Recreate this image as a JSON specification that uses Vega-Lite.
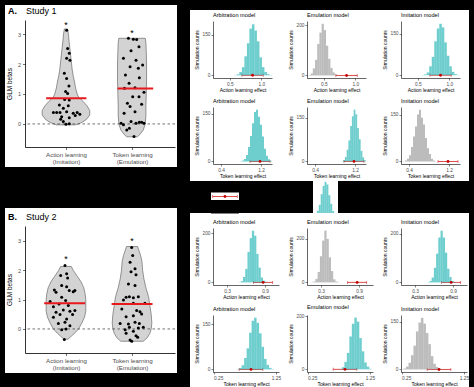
{
"$schema": "https://vega.github.io/schema/vega-lite/v6.json",
"padding": 0,
"background": "white",
"config": {
  "font": "Liberation Sans",
  "view": {"stroke": null},
  "axis": {"grid": false, "domainColor": "#000000", "domainWidth": 0.6, "tickColor": "#333333", "tickWidth": 0.6, "tickSize": 2, "labelColor": "#4d4d4d", "labelFontSize": 4.8, "labelPadding": 1, "titleFontSize": 5, "titleFontWeight": "normal", "titleColor": "#000000", "titlePadding": 2},
  "axisY": {"titlePadding": 2},
  "title": {"fontSize": 5.6, "fontWeight": "normal", "anchor": "start", "color": "#000000", "offset": 2.5, "frame": "group"}
},
"datasets": {
  "violin": [
    {"s":1,"g":1,"v":-0.03,"lo":0.85,"hi":1.15},{"s":1,"g":1,"v":0.05,"lo":0.76,"hi":1.24},{"s":1,"g":1,"v":0.15,"lo":0.69,"hi":1.31},{"s":1,"g":1,"v":0.3,"lo":0.64,"hi":1.36},{"s":1,"g":1,"v":0.45,"lo":0.64,"hi":1.36},{"s":1,"g":1,"v":0.6,"lo":0.68,"hi":1.32},{"s":1,"g":1,"v":0.75,"lo":0.74,"hi":1.26},{"s":1,"g":1,"v":0.9,"lo":0.81,"hi":1.19},{"s":1,"g":1,"v":1.0,"lo":0.83,"hi":1.17},{"s":1,"g":1,"v":1.2,"lo":0.855,"hi":1.145},{"s":1,"g":1,"v":1.4,"lo":0.87,"hi":1.13},{"s":1,"g":1,"v":1.6,"lo":0.89,"hi":1.11},{"s":1,"g":1,"v":1.8,"lo":0.905,"hi":1.095},{"s":1,"g":1,"v":2.0,"lo":0.915,"hi":1.085},{"s":1,"g":1,"v":2.2,"lo":0.925,"hi":1.075},{"s":1,"g":1,"v":2.4,"lo":0.935,"hi":1.065},{"s":1,"g":1,"v":2.6,"lo":0.945,"hi":1.055},{"s":1,"g":1,"v":2.8,"lo":0.955,"hi":1.045},{"s":1,"g":1,"v":3.0,"lo":0.963,"hi":1.037},{"s":1,"g":1,"v":3.17,"lo":0.975,"hi":1.025},
    {"s":1,"g":2,"v":-0.43,"lo":1.92,"hi":2.08},{"s":1,"g":2,"v":-0.35,"lo":1.88,"hi":2.12},{"s":1,"g":2,"v":-0.2,"lo":1.83,"hi":2.17},{"s":1,"g":2,"v":0.0,"lo":1.8,"hi":2.2},{"s":1,"g":2,"v":0.3,"lo":1.79,"hi":2.21},{"s":1,"g":2,"v":0.6,"lo":1.79,"hi":2.21},{"s":1,"g":2,"v":1.0,"lo":1.785,"hi":2.215},{"s":1,"g":2,"v":1.5,"lo":1.78,"hi":2.22},{"s":1,"g":2,"v":2.0,"lo":1.78,"hi":2.22},{"s":1,"g":2,"v":2.4,"lo":1.785,"hi":2.215},{"s":1,"g":2,"v":2.7,"lo":1.79,"hi":2.21},{"s":1,"g":2,"v":2.86,"lo":1.8,"hi":2.2},
    {"s":2,"g":1,"v":-0.35,"lo":0.97,"hi":1.03},{"s":2,"g":1,"v":-0.25,"lo":0.92,"hi":1.08},{"s":2,"g":1,"v":-0.1,"lo":0.85,"hi":1.15},{"s":2,"g":1,"v":0.0,"lo":0.81,"hi":1.19},{"s":2,"g":1,"v":0.2,"lo":0.76,"hi":1.24},{"s":2,"g":1,"v":0.4,"lo":0.72,"hi":1.28},{"s":2,"g":1,"v":0.6,"lo":0.7,"hi":1.3},{"s":2,"g":1,"v":0.8,"lo":0.7,"hi":1.3},{"s":2,"g":1,"v":1.0,"lo":0.7,"hi":1.3},{"s":2,"g":1,"v":1.2,"lo":0.71,"hi":1.29},{"s":2,"g":1,"v":1.4,"lo":0.73,"hi":1.27},{"s":2,"g":1,"v":1.6,"lo":0.77,"hi":1.23},{"s":2,"g":1,"v":1.8,"lo":0.83,"hi":1.17},{"s":2,"g":1,"v":2.0,"lo":0.89,"hi":1.11},{"s":2,"g":1,"v":2.13,"lo":0.92,"hi":1.08},
    {"s":2,"g":2,"v":-0.42,"lo":1.83,"hi":2.17},{"s":2,"g":2,"v":-0.3,"lo":1.77,"hi":2.23},{"s":2,"g":2,"v":-0.15,"lo":1.73,"hi":2.27},{"s":2,"g":2,"v":0.0,"lo":1.71,"hi":2.29},{"s":2,"g":2,"v":0.2,"lo":1.7,"hi":2.3},{"s":2,"g":2,"v":0.5,"lo":1.71,"hi":2.29},{"s":2,"g":2,"v":0.8,"lo":1.73,"hi":2.27},{"s":2,"g":2,"v":1.1,"lo":1.75,"hi":2.25},{"s":2,"g":2,"v":1.4,"lo":1.79,"hi":2.21},{"s":2,"g":2,"v":1.7,"lo":1.82,"hi":2.18},{"s":2,"g":2,"v":2.0,"lo":1.84,"hi":2.16},{"s":2,"g":2,"v":2.3,"lo":1.85,"hi":2.15},{"s":2,"g":2,"v":2.5,"lo":1.87,"hi":2.13},{"s":2,"g":2,"v":2.7,"lo":1.9,"hi":2.1},{"s":2,"g":2,"v":2.81,"lo":1.915,"hi":2.085}
  ],
  "pts": [
    {"s":1,"g":1,"x":1.01,"v":3.13},{"s":1,"g":1,"x":1.025,"v":2.52},{"s":1,"g":1,"x":1.05,"v":2.36},{"s":1,"g":1,"x":1.01,"v":2.19},{"s":1,"g":1,"x":1.06,"v":2.13},{"s":1,"g":1,"x":0.975,"v":1.69},{"s":1,"g":1,"x":1.01,"v":1.52},{"s":1,"g":1,"x":1.045,"v":1.27},{"s":1,"g":1,"x":0.995,"v":1.08},{"s":1,"g":1,"x":1.025,"v":1.02},{"s":1,"g":1,"x":0.98,"v":0.82},{"s":1,"g":1,"x":1.05,"v":0.8},{"s":1,"g":1,"x":0.9,"v":0.63},{"s":1,"g":1,"x":1.035,"v":0.61},{"s":1,"g":1,"x":0.96,"v":0.52},{"s":1,"g":1,"x":0.81,"v":0.38},{"s":1,"g":1,"x":0.86,"v":0.38},{"s":1,"g":1,"x":0.91,"v":0.38},{"s":1,"g":1,"x":1.01,"v":0.41},{"s":1,"g":1,"x":1.11,"v":0.36},{"s":1,"g":1,"x":1.17,"v":0.38},{"s":1,"g":1,"x":1.21,"v":0.32},{"s":1,"g":1,"x":0.935,"v":0.24},{"s":1,"g":1,"x":1.05,"v":0.21},{"s":1,"g":1,"x":1.14,"v":0.28},{"s":1,"g":1,"x":0.92,"v":0.16},{"s":1,"g":1,"x":1.0,"v":-0.01},{"s":1,"g":1,"x":1.05,"v":0.01},{"s":1,"g":1,"x":0.96,"v":0.08},
    {"s":1,"g":2,"x":1.945,"v":2.86},{"s":1,"g":2,"x":2.02,"v":2.83},{"s":1,"g":2,"x":2.07,"v":2.82},{"s":1,"g":2,"x":2.105,"v":2.58},{"s":1,"g":2,"x":1.985,"v":2.44},{"s":1,"g":2,"x":1.87,"v":2.19},{"s":1,"g":2,"x":2.06,"v":2.13},{"s":1,"g":2,"x":2.16,"v":1.97},{"s":1,"g":2,"x":1.97,"v":1.91},{"s":1,"g":2,"x":2.095,"v":1.86},{"s":1,"g":2,"x":1.9,"v":1.63},{"s":1,"g":2,"x":2.11,"v":1.54},{"s":1,"g":2,"x":1.955,"v":1.36},{"s":1,"g":2,"x":1.885,"v":1.19},{"s":1,"g":2,"x":2.045,"v":1.21},{"s":1,"g":2,"x":2.18,"v":1.06},{"s":1,"g":2,"x":2.01,"v":0.91},{"s":1,"g":2,"x":2.105,"v":0.91},{"s":1,"g":2,"x":1.93,"v":0.69},{"s":1,"g":2,"x":1.97,"v":0.58},{"s":1,"g":2,"x":2.145,"v":0.66},{"s":1,"g":2,"x":2.045,"v":0.41},{"s":1,"g":2,"x":1.88,"v":0.36},{"s":1,"g":2,"x":1.985,"v":0.08},{"s":1,"g":2,"x":2.11,"v":0.06},{"s":1,"g":2,"x":1.87,"v":-0.03},{"s":1,"g":2,"x":2.06,"v":0.02},{"s":1,"g":2,"x":2.145,"v":0.06},{"s":1,"g":2,"x":2.18,"v":0.02},{"s":1,"g":2,"x":1.92,"v":-0.2},{"s":1,"g":2,"x":2.03,"v":-0.42},{"s":1,"g":2,"x":1.96,"v":-0.14},{"s":1,"g":2,"x":1.835,"v":0.02},
    {"s":2,"g":1,"x":0.985,"v":2.16},{"s":2,"g":1,"x":0.92,"v":1.82},{"s":2,"g":1,"x":1.01,"v":1.88},{"s":2,"g":1,"x":1.025,"v":1.74},{"s":2,"g":1,"x":0.825,"v":1.33},{"s":2,"g":1,"x":0.85,"v":1.25},{"s":2,"g":1,"x":0.935,"v":1.48},{"s":2,"g":1,"x":1.01,"v":1.44},{"s":2,"g":1,"x":1.05,"v":1.31},{"s":2,"g":1,"x":1.11,"v":1.27},{"s":2,"g":1,"x":1.135,"v":1.31},{"s":2,"g":1,"x":0.935,"v":1.08},{"s":2,"g":1,"x":0.995,"v":0.97},{"s":2,"g":1,"x":0.76,"v":0.94},{"s":2,"g":1,"x":0.81,"v":0.76},{"s":2,"g":1,"x":1.035,"v":0.8},{"s":2,"g":1,"x":0.895,"v":0.85},{"s":2,"g":1,"x":0.85,"v":0.57},{"s":2,"g":1,"x":0.91,"v":0.49},{"s":2,"g":1,"x":0.96,"v":0.65},{"s":2,"g":1,"x":1.06,"v":0.6},{"s":2,"g":1,"x":1.1,"v":0.49},{"s":2,"g":1,"x":1.135,"v":0.63},{"s":2,"g":1,"x":0.81,"v":0.4},{"s":2,"g":1,"x":1.01,"v":0.34},{"s":2,"g":1,"x":0.885,"v":0.19},{"s":2,"g":1,"x":0.985,"v":0.23},{"s":2,"g":1,"x":1.06,"v":0.11},{"s":2,"g":1,"x":0.935,"v":-0.03},{"s":2,"g":1,"x":1.0,"v":0.0},{"s":2,"g":1,"x":0.975,"v":-0.36},
    {"s":2,"g":2,"x":1.995,"v":2.78},{"s":2,"g":2,"x":2.01,"v":2.5},{"s":2,"g":2,"x":1.97,"v":2.27},{"s":2,"g":2,"x":2.045,"v":2.05},{"s":2,"g":2,"x":1.985,"v":1.95},{"s":2,"g":2,"x":2.06,"v":1.85},{"s":2,"g":2,"x":1.945,"v":1.53},{"s":2,"g":2,"x":2.045,"v":1.48},{"s":2,"g":2,"x":1.91,"v":1.08},{"s":2,"g":2,"x":1.96,"v":1.1},{"s":2,"g":2,"x":2.02,"v":1.06},{"s":2,"g":2,"x":2.095,"v":1.1},{"s":2,"g":2,"x":1.87,"v":0.99},{"s":2,"g":2,"x":2.02,"v":0.88},{"s":2,"g":2,"x":2.195,"v":0.88},{"s":2,"g":2,"x":1.845,"v":0.68},{"s":2,"g":2,"x":2.07,"v":0.63},{"s":2,"g":2,"x":2.12,"v":0.59},{"s":2,"g":2,"x":1.91,"v":0.42},{"s":2,"g":2,"x":2.02,"v":0.45},{"s":2,"g":2,"x":2.145,"v":0.51},{"s":2,"g":2,"x":1.82,"v":0.19},{"s":2,"g":2,"x":1.945,"v":0.17},{"s":2,"g":2,"x":2.045,"v":0.23},{"s":2,"g":2,"x":2.11,"v":0.19},{"s":2,"g":2,"x":1.895,"v":-0.03},{"s":2,"g":2,"x":1.96,"v":0.06},{"s":2,"g":2,"x":2.095,"v":0.03},{"s":2,"g":2,"x":2.17,"v":0.06},{"s":2,"g":2,"x":2.02,"v":-0.08},{"s":2,"g":2,"x":1.91,"v":-0.15},{"s":2,"g":2,"x":2.06,"v":-0.23},{"s":2,"g":2,"x":1.97,"v":-0.38},{"s":2,"g":2,"x":1.995,"v":-0.42},{"s":2,"g":2,"x":2.085,"v":-0.28}
  ],
  "means": [
    {"s":1,"g":1,"m":0.86,"x1":0.7,"x2":1.31},{"s":1,"g":2,"m":1.18,"x1":1.78,"x2":2.32},
    {"s":2,"g":1,"m":0.875,"x1":0.67,"x2":1.29},{"s":2,"g":2,"m":0.85,"x1":1.69,"x2":2.31}
  ],
  "stars": [
    {"s":1,"g":1,"v":3.38},{"s":1,"g":2,"v":3.1},{"s":2,"g":1,"v":2.46},{"s":2,"g":2,"v":3.08}
  ],
  "eb": [
    {"p":"C1","lo":0.69,"hi":1.03,"m":0.86},{"p":"C2","lo":0.69,"hi":1.03,"m":0.86},{"p":"C3","lo":0.69,"hi":1.03,"m":0.86},
    {"p":"C4","lo":0.98,"hi":1.38,"m":1.18},{"p":"C5","lo":0.98,"hi":1.38,"m":1.18},{"p":"C6","lo":0.98,"hi":1.38,"m":1.18},
    {"p":"D1","lo":0.72,"hi":1.02,"m":0.87},{"p":"D2","lo":0.72,"hi":1.02,"m":0.87},{"p":"D3","lo":0.72,"hi":1.02,"m":0.87},
    {"p":"D4","lo":0.66,"hi":1.04,"m":0.85},{"p":"D5","lo":0.66,"hi":1.04,"m":0.85},{"p":"D6","lo":0.66,"hi":1.04,"m":0.85}
  ],
  "hist": [
    {"p":"C1","x0":0.57,"x1":0.61,"n":1},{"p":"C1","x0":0.61,"x1":0.65,"n":4},{"p":"C1","x0":0.65,"x1":0.69,"n":12},{"p":"C1","x0":0.69,"x1":0.73,"n":30},{"p":"C1","x0":0.73,"x1":0.77,"n":70},{"p":"C1","x0":0.77,"x1":0.81,"n":118},{"p":"C1","x0":0.81,"x1":0.85,"n":172},{"p":"C1","x0":0.85,"x1":0.89,"n":188},{"p":"C1","x0":0.89,"x1":0.93,"n":165},{"p":"C1","x0":0.93,"x1":0.97,"n":125},{"p":"C1","x0":0.97,"x1":1.01,"n":66},{"p":"C1","x0":1.01,"x1":1.05,"n":30},{"p":"C1","x0":1.05,"x1":1.09,"n":12},{"p":"C1","x0":1.09,"x1":1.13,"n":4},{"p":"C1","x0":1.13,"x1":1.17,"n":1},
    {"p":"C2","x0":0.253,"x1":0.288,"n":2},{"p":"C2","x0":0.288,"x1":0.323,"n":8},{"p":"C2","x0":0.323,"x1":0.358,"n":28},{"p":"C2","x0":0.358,"x1":0.393,"n":62},{"p":"C2","x0":0.393,"x1":0.428,"n":125},{"p":"C2","x0":0.428,"x1":0.463,"n":170},{"p":"C2","x0":0.463,"x1":0.498,"n":205},{"p":"C2","x0":0.498,"x1":0.533,"n":180},{"p":"C2","x0":0.533,"x1":0.568,"n":118},{"p":"C2","x0":0.568,"x1":0.603,"n":66},{"p":"C2","x0":0.603,"x1":0.638,"n":30},{"p":"C2","x0":0.638,"x1":0.673,"n":12},{"p":"C2","x0":0.673,"x1":0.708,"n":4},{"p":"C2","x0":0.708,"x1":0.743,"n":1},
    {"p":"C3","x0":0.56,"x1":0.6,"n":1},{"p":"C3","x0":0.6,"x1":0.64,"n":3},{"p":"C3","x0":0.64,"x1":0.68,"n":10},{"p":"C3","x0":0.68,"x1":0.72,"n":32},{"p":"C3","x0":0.72,"x1":0.76,"n":66},{"p":"C3","x0":0.76,"x1":0.8,"n":122},{"p":"C3","x0":0.8,"x1":0.84,"n":168},{"p":"C3","x0":0.84,"x1":0.88,"n":185},{"p":"C3","x0":0.88,"x1":0.92,"n":172},{"p":"C3","x0":0.92,"x1":0.96,"n":118},{"p":"C3","x0":0.96,"x1":1.0,"n":70},{"p":"C3","x0":1.0,"x1":1.04,"n":32},{"p":"C3","x0":1.04,"x1":1.08,"n":12},{"p":"C3","x0":1.08,"x1":1.12,"n":4},{"p":"C3","x0":1.12,"x1":1.16,"n":1},
    {"p":"C4","x0":0.78,"x1":0.82,"n":1},{"p":"C4","x0":0.82,"x1":0.86,"n":3},{"p":"C4","x0":0.86,"x1":0.9,"n":8},{"p":"C4","x0":0.9,"x1":0.94,"n":20},{"p":"C4","x0":0.94,"x1":0.98,"n":45},{"p":"C4","x0":0.98,"x1":1.02,"n":80},{"p":"C4","x0":1.02,"x1":1.06,"n":120},{"p":"C4","x0":1.06,"x1":1.1,"n":155},{"p":"C4","x0":1.1,"x1":1.14,"n":162},{"p":"C4","x0":1.14,"x1":1.18,"n":140},{"p":"C4","x0":1.18,"x1":1.22,"n":115},{"p":"C4","x0":1.22,"x1":1.26,"n":78},{"p":"C4","x0":1.26,"x1":1.3,"n":40},{"p":"C4","x0":1.3,"x1":1.34,"n":18},{"p":"C4","x0":1.34,"x1":1.38,"n":7},{"p":"C4","x0":1.38,"x1":1.42,"n":2},
    {"p":"C5","x0":0.928,"x1":0.963,"n":1},{"p":"C5","x0":0.963,"x1":0.998,"n":5},{"p":"C5","x0":0.998,"x1":1.033,"n":15},{"p":"C5","x0":1.033,"x1":1.068,"n":40},{"p":"C5","x0":1.068,"x1":1.103,"n":72},{"p":"C5","x0":1.103,"x1":1.138,"n":122},{"p":"C5","x0":1.138,"x1":1.173,"n":155},{"p":"C5","x0":1.173,"x1":1.208,"n":178},{"p":"C5","x0":1.208,"x1":1.243,"n":162},{"p":"C5","x0":1.243,"x1":1.278,"n":115},{"p":"C5","x0":1.278,"x1":1.313,"n":76},{"p":"C5","x0":1.313,"x1":1.348,"n":36},{"p":"C5","x0":1.348,"x1":1.383,"n":14},{"p":"C5","x0":1.383,"x1":1.418,"n":4},
    {"p":"C6","x0":0.28,"x1":0.32,"n":1},{"p":"C6","x0":0.32,"x1":0.36,"n":3},{"p":"C6","x0":0.36,"x1":0.4,"n":9},{"p":"C6","x0":0.4,"x1":0.44,"n":20},{"p":"C6","x0":0.44,"x1":0.48,"n":46},{"p":"C6","x0":0.48,"x1":0.52,"n":80},{"p":"C6","x0":0.52,"x1":0.56,"n":112},{"p":"C6","x0":0.56,"x1":0.6,"n":150},{"p":"C6","x0":0.6,"x1":0.64,"n":165},{"p":"C6","x0":0.64,"x1":0.68,"n":140},{"p":"C6","x0":0.68,"x1":0.72,"n":118},{"p":"C6","x0":0.72,"x1":0.76,"n":75},{"p":"C6","x0":0.76,"x1":0.8,"n":42},{"p":"C6","x0":0.8,"x1":0.84,"n":24},{"p":"C6","x0":0.84,"x1":0.88,"n":9},{"p":"C6","x0":0.88,"x1":0.92,"n":3},{"p":"C6","x0":0.92,"x1":0.96,"n":1},
    {"p":"D1","x0":0.483,"x1":0.518,"n":1},{"p":"D1","x0":0.518,"x1":0.553,"n":5},{"p":"D1","x0":0.553,"x1":0.588,"n":22},{"p":"D1","x0":0.588,"x1":0.623,"n":55},{"p":"D1","x0":0.623,"x1":0.658,"n":124},{"p":"D1","x0":0.658,"x1":0.693,"n":180},{"p":"D1","x0":0.693,"x1":0.728,"n":210},{"p":"D1","x0":0.728,"x1":0.763,"n":190},{"p":"D1","x0":0.763,"x1":0.798,"n":116},{"p":"D1","x0":0.798,"x1":0.833,"n":60},{"p":"D1","x0":0.833,"x1":0.868,"n":20},{"p":"D1","x0":0.868,"x1":0.903,"n":7},{"p":"D1","x0":0.903,"x1":0.938,"n":2},
    {"p":"D2","x0":0.143,"x1":0.178,"n":1},{"p":"D2","x0":0.178,"x1":0.213,"n":4},{"p":"D2","x0":0.213,"x1":0.248,"n":16},{"p":"D2","x0":0.248,"x1":0.283,"n":48},{"p":"D2","x0":0.283,"x1":0.318,"n":120},{"p":"D2","x0":0.318,"x1":0.353,"n":192},{"p":"D2","x0":0.353,"x1":0.388,"n":238},{"p":"D2","x0":0.388,"x1":0.423,"n":200},{"p":"D2","x0":0.423,"x1":0.458,"n":115},{"p":"D2","x0":0.458,"x1":0.493,"n":52},{"p":"D2","x0":0.493,"x1":0.528,"n":14},{"p":"D2","x0":0.528,"x1":0.563,"n":4},{"p":"D2","x0":0.563,"x1":0.598,"n":1},
    {"p":"D3","x0":0.493,"x1":0.528,"n":1},{"p":"D3","x0":0.528,"x1":0.563,"n":6},{"p":"D3","x0":0.563,"x1":0.598,"n":20},{"p":"D3","x0":0.598,"x1":0.633,"n":60},{"p":"D3","x0":0.633,"x1":0.668,"n":118},{"p":"D3","x0":0.668,"x1":0.703,"n":184},{"p":"D3","x0":0.703,"x1":0.738,"n":212},{"p":"D3","x0":0.738,"x1":0.773,"n":184},{"p":"D3","x0":0.773,"x1":0.808,"n":122},{"p":"D3","x0":0.808,"x1":0.843,"n":56},{"p":"D3","x0":0.843,"x1":0.878,"n":22},{"p":"D3","x0":0.878,"x1":0.913,"n":6},{"p":"D3","x0":0.913,"x1":0.948,"n":1},
    {"p":"D4","x0":0.62,"x1":0.66,"n":1},{"p":"D4","x0":0.66,"x1":0.7,"n":5},{"p":"D4","x0":0.7,"x1":0.74,"n":14},{"p":"D4","x0":0.74,"x1":0.78,"n":38},{"p":"D4","x0":0.78,"x1":0.82,"n":70},{"p":"D4","x0":0.82,"x1":0.86,"n":122},{"p":"D4","x0":0.86,"x1":0.9,"n":162},{"p":"D4","x0":0.9,"x1":0.94,"n":172},{"p":"D4","x0":0.94,"x1":0.98,"n":155},{"p":"D4","x0":0.98,"x1":1.02,"n":120},{"p":"D4","x0":1.02,"x1":1.06,"n":75},{"p":"D4","x0":1.06,"x1":1.1,"n":35},{"p":"D4","x0":1.1,"x1":1.14,"n":15},{"p":"D4","x0":1.14,"x1":1.18,"n":5},{"p":"D4","x0":1.18,"x1":1.22,"n":1},
    {"p":"D5","x0":0.76,"x1":0.8,"n":1},{"p":"D5","x0":0.8,"x1":0.84,"n":8},{"p":"D5","x0":0.84,"x1":0.88,"n":28},{"p":"D5","x0":0.88,"x1":0.92,"n":62},{"p":"D5","x0":0.92,"x1":0.96,"n":124},{"p":"D5","x0":0.96,"x1":1.0,"n":172},{"p":"D5","x0":1.0,"x1":1.04,"n":195},{"p":"D5","x0":1.04,"x1":1.08,"n":180},{"p":"D5","x0":1.08,"x1":1.12,"n":118},{"p":"D5","x0":1.12,"x1":1.16,"n":68},{"p":"D5","x0":1.16,"x1":1.2,"n":26},{"p":"D5","x0":1.2,"x1":1.24,"n":10},{"p":"D5","x0":1.24,"x1":1.28,"n":2},
    {"p":"D6","x0":0.24,"x1":0.28,"n":1},{"p":"D6","x0":0.28,"x1":0.32,"n":3},{"p":"D6","x0":0.32,"x1":0.36,"n":9},{"p":"D6","x0":0.36,"x1":0.4,"n":21},{"p":"D6","x0":0.4,"x1":0.44,"n":45},{"p":"D6","x0":0.44,"x1":0.48,"n":75},{"p":"D6","x0":0.48,"x1":0.52,"n":120},{"p":"D6","x0":0.52,"x1":0.56,"n":148},{"p":"D6","x0":0.56,"x1":0.6,"n":163},{"p":"D6","x0":0.6,"x1":0.64,"n":145},{"p":"D6","x0":0.64,"x1":0.68,"n":115},{"p":"D6","x0":0.68,"x1":0.72,"n":80},{"p":"D6","x0":0.72,"x1":0.76,"n":42},{"p":"D6","x0":0.76,"x1":0.8,"n":18},{"p":"D6","x0":0.8,"x1":0.84,"n":8},{"p":"D6","x0":0.84,"x1":0.88,"n":3},{"p":"D6","x0":0.88,"x1":0.92,"n":1}
  ]
},
"align": "none",
"spacing": 0,
"concat": [
  {"width": 5, "height": 387, "data": {"values": []}, "mark": "point", "encoding": {}, "view": {"fill": "black"}},
  {"columns": 1, "align": "none", "spacing": 0, "concat": [
    {"width": 172, "height": 5, "data": {"values": []}, "mark": "point", "encoding": {}, "view": {"fill": "black"}},
    {"width": 1, "height": 2, "data": {"values": []}, "mark": "point", "encoding": {}},
    {"title": {"text": "A.", "fontSize": 9, "fontWeight": "bold", "dx": 3, "offset": -9, "frame": "bounds"}, "align": "none", "spacing": 0, "concat": [
      {"width": 0.94, "height": 1, "data": {"values": []}, "mark": "point", "encoding": {}},
      {"width": 150, "height": 127,
       "title": {"text": "Study 1", "fontSize": 9, "offset": 4, "dx": 1},
       "layer": [
        {"data": {"name": "violin"}, "transform": [{"filter": "datum.s==1"}], "mark": {"type": "area", "orient": "horizontal", "fill": "#d3d3d3", "stroke": "#555555", "strokeWidth": 0.6},
         "encoding": {
          "y": {"field": "v", "type": "quantitative", "title": "GLM betas", "scale": {"domain": [-0.77, 3.47], "nice": false, "zero": false}, "axis": {"values": [0, 1, 2, 3], "labelFontSize": 5.5, "tickSize": 2.5, "labelPadding": 2, "titleFontSize": 6.5, "titlePadding": 5, "domainWidth": 0.8, "tickWidth": 0.7}},
          "x": {"field": "lo", "type": "quantitative", "title": null, "scale": {"domain": [0.38, 2.65], "nice": false, "zero": false}, "axis": {"values": [1, 2], "labelExpr": "datum.value == 1 ? ['Action learning', '(Imitation)'] : ['Token learning', '(Emulation)']", "labelFontSize": 6.2, "labelLineHeight": 7, "tickSize": 2.5, "labelPadding": 1.5, "domainWidth": 0.8, "tickWidth": 0.7}},
          "x2": {"field": "hi"},
          "detail": {"field": "g"}}},
        {"data": {"values": [{}]}, "mark": {"type": "rule", "color": "#333333", "strokeWidth": 0.7, "strokeDash": [2.5, 2.5]}, "encoding": {"y": {"datum": 0, "type": "quantitative", "title": "GLM betas"}}},
        {"data": {"name": "pts"}, "transform": [{"filter": "datum.s==1"}], "mark": {"type": "circle", "color": "#000000", "size": 9, "opacity": 1}, "encoding": {"x": {"field": "x", "type": "quantitative", "title": null}, "y": {"field": "v", "type": "quantitative", "title": "GLM betas"}}},
        {"data": {"name": "means"}, "transform": [{"filter": "datum.s==1"}], "mark": {"type": "rule", "color": "#e8191c", "strokeWidth": 2}, "encoding": {"x": {"field": "x1", "type": "quantitative", "title": null}, "x2": {"field": "x2"}, "y": {"field": "m", "type": "quantitative", "title": "GLM betas"}}},
        {"data": {"name": "stars"}, "transform": [{"filter": "datum.s==1"}], "mark": {"type": "text", "text": "*", "fontSize": 9, "dy": 2, "color": "#000000"}, "encoding": {"x": {"field": "g", "type": "quantitative", "title": null}, "y": {"field": "v", "type": "quantitative", "title": "GLM betas"}}}
       ]}
    ]},
    {"width": 1, "height": 2, "data": {"values": []}, "mark": "point", "encoding": {}},
    {"width": 172, "height": 41, "data": {"values": []}, "mark": "point", "encoding": {}, "view": {"fill": "black"}},
    {"width": 1, "height": 5, "data": {"values": []}, "mark": "point", "encoding": {}},
    {"title": {"text": "B.", "fontSize": 9, "fontWeight": "bold", "dx": 3, "offset": -9, "frame": "bounds"}, "align": "none", "spacing": 0, "concat": [
      {"width": 0.94, "height": 1, "data": {"values": []}, "mark": "point", "encoding": {}},
      {"width": 150, "height": 127,
       "title": {"text": "Study 2", "fontSize": 9, "offset": 4, "dx": 1},
       "layer": [
        {"data": {"name": "violin"}, "transform": [{"filter": "datum.s==2"}], "mark": {"type": "area", "orient": "horizontal", "fill": "#d3d3d3", "stroke": "#555555", "strokeWidth": 0.6},
         "encoding": {
          "y": {"field": "v", "type": "quantitative", "title": "GLM betas", "scale": {"domain": [-0.82, 3.51], "nice": false, "zero": false}, "axis": {"values": [0, 1, 2, 3], "labelFontSize": 5.5, "tickSize": 2.5, "labelPadding": 2, "titleFontSize": 6.5, "titlePadding": 5, "domainWidth": 0.8, "tickWidth": 0.7}},
          "x": {"field": "lo", "type": "quantitative", "title": null, "scale": {"domain": [0.38, 2.65], "nice": false, "zero": false}, "axis": {"values": [1, 2], "labelExpr": "datum.value == 1 ? ['Action learning', '(Imitation)'] : ['Token learning', '(Emulation)']", "labelFontSize": 6.2, "labelLineHeight": 7, "tickSize": 2.5, "labelPadding": 1.5, "domainWidth": 0.8, "tickWidth": 0.7}},
          "x2": {"field": "hi"},
          "detail": {"field": "g"}}},
        {"data": {"values": [{}]}, "mark": {"type": "rule", "color": "#333333", "strokeWidth": 0.7, "strokeDash": [2.5, 2.5]}, "encoding": {"y": {"datum": 0, "type": "quantitative", "title": "GLM betas"}}},
        {"data": {"name": "pts"}, "transform": [{"filter": "datum.s==2"}], "mark": {"type": "circle", "color": "#000000", "size": 9, "opacity": 1}, "encoding": {"x": {"field": "x", "type": "quantitative", "title": null}, "y": {"field": "v", "type": "quantitative", "title": "GLM betas"}}},
        {"data": {"name": "means"}, "transform": [{"filter": "datum.s==2"}], "mark": {"type": "rule", "color": "#e8191c", "strokeWidth": 2}, "encoding": {"x": {"field": "x1", "type": "quantitative", "title": null}, "x2": {"field": "x2"}, "y": {"field": "m", "type": "quantitative", "title": "GLM betas"}}},
        {"data": {"name": "stars"}, "transform": [{"filter": "datum.s==2"}], "mark": {"type": "text", "text": "*", "fontSize": 9, "dy": 2, "color": "#000000"}, "encoding": {"x": {"field": "g", "type": "quantitative", "title": null}, "y": {"field": "v", "type": "quantitative", "title": "GLM betas"}}}
       ]}
    ]},
    {"width": 1, "height": 2, "data": {"values": []}, "mark": "point", "encoding": {}},
    {"width": 172, "height": 14, "data": {"values": []}, "mark": "point", "encoding": {}, "view": {"fill": "black"}}
  ]},
  {"width": 13, "height": 387, "data": {"values": []}, "mark": "point", "encoding": {}, "view": {"fill": "black"}},
  {"columns": 1, "align": "none", "spacing": 0, "concat": [
    {"width": 279, "height": 10, "data": {"values": []}, "mark": "point", "encoding": {}, "view": {"fill": "black"}},
    {"width": 1, "height": 2, "data": {"values": []}, "mark": "point", "encoding": {}},
    {"align": "none", "spacing": 0, "concat": [
    {"width": 4, "height": 1, "data": {"values": []}, "mark": "point", "encoding": {}},
    {"columns": 3, "spacing": {"row": 5, "column": 16}, "concat": [
      {"width": 59, "height": 57, "title": "Arbitration model", "layer": [
        {"data": {"name": "eb"}, "transform": [{"filter": "datum.p=='C1'"}], "mark": {"type": "rule", "color": "#d42020", "strokeWidth": 0.8}, "encoding": {"x": {"field": "lo", "type": "quantitative", "title": "Action learning effect", "scale": {"domain": [0.23, 1.17], "nice": false, "zero": false}, "axis": {"values": [0.5, 1.0], "format": ".1f"}}, "x2": {"field": "hi"}, "y": {"datum": 0, "type": "quantitative", "title": "Simulation counts", "scale": {"domain": [-10, 200], "nice": false, "zero": false}, "axis": {"values": [0, 50, 100, 150]}}}},
        {"data": {"name": "eb"}, "transform": [{"filter": "datum.p=='C1'"}, {"fold": ["lo", "hi"]}], "mark": {"type": "tick", "orient": "vertical", "color": "#d42020", "size": 3, "thickness": 0.8}, "encoding": {"x": {"field": "value", "type": "quantitative", "title": "Action learning effect"}, "y": {"datum": 0, "type": "quantitative", "title": "Simulation counts"}}},
        {"data": {"name": "hist"}, "transform": [{"filter": "datum.p=='C1'"}], "mark": {"type": "rect", "color": "#00a9a9", "opacity": 0.57}, "encoding": {"x": {"field": "x0", "type": "quantitative", "title": "Action learning effect"}, "x2": {"field": "x1"}, "y": {"field": "n", "type": "quantitative", "title": "Simulation counts"}, "y2": {"datum": 0}}},
        {"data": {"name": "eb"}, "transform": [{"filter": "datum.p=='C1'"}], "mark": {"type": "circle", "color": "#c40000", "size": 8, "opacity": 1}, "encoding": {"x": {"field": "m", "type": "quantitative", "title": "Action learning effect"}, "y": {"datum": 0, "type": "quantitative", "title": "Simulation counts"}}}
      ]},
      {"width": 59, "height": 57, "title": "Emulation model", "layer": [
        {"data": {"name": "eb"}, "transform": [{"filter": "datum.p=='C2'"}], "mark": {"type": "rule", "color": "#d42020", "strokeWidth": 0.8}, "encoding": {"x": {"field": "lo", "type": "quantitative", "title": "Action learning effect", "scale": {"domain": [0.23, 1.17], "nice": false, "zero": false}, "axis": {"values": [0.5, 1.0], "format": ".1f"}}, "x2": {"field": "hi"}, "y": {"datum": 0, "type": "quantitative", "title": "Simulation counts", "scale": {"domain": [-10, 216], "nice": false, "zero": false}, "axis": {"values": [0, 50, 100, 150, 200]}}}},
        {"data": {"name": "eb"}, "transform": [{"filter": "datum.p=='C2'"}, {"fold": ["lo", "hi"]}], "mark": {"type": "tick", "orient": "vertical", "color": "#d42020", "size": 3, "thickness": 0.8}, "encoding": {"x": {"field": "value", "type": "quantitative", "title": "Action learning effect"}, "y": {"datum": 0, "type": "quantitative", "title": "Simulation counts"}}},
        {"data": {"name": "hist"}, "transform": [{"filter": "datum.p=='C2'"}], "mark": {"type": "rect", "color": "#8a8a8a", "opacity": 0.57}, "encoding": {"x": {"field": "x0", "type": "quantitative", "title": "Action learning effect"}, "x2": {"field": "x1"}, "y": {"field": "n", "type": "quantitative", "title": "Simulation counts"}, "y2": {"datum": 0}}},
        {"data": {"name": "eb"}, "transform": [{"filter": "datum.p=='C2'"}], "mark": {"type": "circle", "color": "#c40000", "size": 8, "opacity": 1}, "encoding": {"x": {"field": "m", "type": "quantitative", "title": "Action learning effect"}, "y": {"datum": 0, "type": "quantitative", "title": "Simulation counts"}}}
      ]},
      {"width": 59, "height": 57, "title": "Imitation model", "layer": [
        {"data": {"name": "eb"}, "transform": [{"filter": "datum.p=='C3'"}], "mark": {"type": "rule", "color": "#d42020", "strokeWidth": 0.8}, "encoding": {"x": {"field": "lo", "type": "quantitative", "title": "Action learning effect", "scale": {"domain": [0.23, 1.17], "nice": false, "zero": false}, "axis": {"values": [0.5, 1.0], "format": ".1f"}}, "x2": {"field": "hi"}, "y": {"datum": 0, "type": "quantitative", "title": "Simulation counts", "scale": {"domain": [-10, 195], "nice": false, "zero": false}, "axis": {"values": [0, 50, 100, 150]}}}},
        {"data": {"name": "eb"}, "transform": [{"filter": "datum.p=='C3'"}, {"fold": ["lo", "hi"]}], "mark": {"type": "tick", "orient": "vertical", "color": "#d42020", "size": 3, "thickness": 0.8}, "encoding": {"x": {"field": "value", "type": "quantitative", "title": "Action learning effect"}, "y": {"datum": 0, "type": "quantitative", "title": "Simulation counts"}}},
        {"data": {"name": "hist"}, "transform": [{"filter": "datum.p=='C3'"}], "mark": {"type": "rect", "color": "#00a9a9", "opacity": 0.57}, "encoding": {"x": {"field": "x0", "type": "quantitative", "title": "Action learning effect"}, "x2": {"field": "x1"}, "y": {"field": "n", "type": "quantitative", "title": "Simulation counts"}, "y2": {"datum": 0}}},
        {"data": {"name": "eb"}, "transform": [{"filter": "datum.p=='C3'"}], "mark": {"type": "circle", "color": "#c40000", "size": 8, "opacity": 1}, "encoding": {"x": {"field": "m", "type": "quantitative", "title": "Action learning effect"}, "y": {"datum": 0, "type": "quantitative", "title": "Simulation counts"}}}
      ]},
      {"width": 59, "height": 57, "title": "Arbitration model", "layer": [
        {"data": {"name": "eb"}, "transform": [{"filter": "datum.p=='C4'"}], "mark": {"type": "rule", "color": "#d42020", "strokeWidth": 0.8}, "encoding": {"x": {"field": "lo", "type": "quantitative", "title": "Token learning effect", "scale": {"domain": [0.24, 1.42], "nice": false, "zero": false}, "axis": {"values": [0.4, 0.8, 1.2], "format": ".1f"}}, "x2": {"field": "hi"}, "y": {"datum": 0, "type": "quantitative", "title": "Simulation counts", "scale": {"domain": [-8, 171], "nice": false, "zero": false}, "axis": {"values": [0, 50, 100, 150]}}}},
        {"data": {"name": "eb"}, "transform": [{"filter": "datum.p=='C4'"}, {"fold": ["lo", "hi"]}], "mark": {"type": "tick", "orient": "vertical", "color": "#d42020", "size": 3, "thickness": 0.8}, "encoding": {"x": {"field": "value", "type": "quantitative", "title": "Token learning effect"}, "y": {"datum": 0, "type": "quantitative", "title": "Simulation counts"}}},
        {"data": {"name": "hist"}, "transform": [{"filter": "datum.p=='C4'"}], "mark": {"type": "rect", "color": "#00a9a9", "opacity": 0.57}, "encoding": {"x": {"field": "x0", "type": "quantitative", "title": "Token learning effect"}, "x2": {"field": "x1"}, "y": {"field": "n", "type": "quantitative", "title": "Simulation counts"}, "y2": {"datum": 0}}},
        {"data": {"name": "eb"}, "transform": [{"filter": "datum.p=='C4'"}], "mark": {"type": "circle", "color": "#c40000", "size": 8, "opacity": 1}, "encoding": {"x": {"field": "m", "type": "quantitative", "title": "Token learning effect"}, "y": {"datum": 0, "type": "quantitative", "title": "Simulation counts"}}}
      ]},
      {"width": 59, "height": 57, "title": "Emulation model", "layer": [
        {"data": {"name": "eb"}, "transform": [{"filter": "datum.p=='C5'"}], "mark": {"type": "rule", "color": "#d42020", "strokeWidth": 0.8}, "encoding": {"x": {"field": "lo", "type": "quantitative", "title": "Token learning effect", "scale": {"domain": [0.24, 1.42], "nice": false, "zero": false}, "axis": {"values": [0.4, 0.8, 1.2], "format": ".1f"}}, "x2": {"field": "hi"}, "y": {"datum": 0, "type": "quantitative", "title": "Simulation counts", "scale": {"domain": [-9, 187], "nice": false, "zero": false}, "axis": {"values": [0, 50, 100, 150]}}}},
        {"data": {"name": "eb"}, "transform": [{"filter": "datum.p=='C5'"}, {"fold": ["lo", "hi"]}], "mark": {"type": "tick", "orient": "vertical", "color": "#d42020", "size": 3, "thickness": 0.8}, "encoding": {"x": {"field": "value", "type": "quantitative", "title": "Token learning effect"}, "y": {"datum": 0, "type": "quantitative", "title": "Simulation counts"}}},
        {"data": {"name": "hist"}, "transform": [{"filter": "datum.p=='C5'"}], "mark": {"type": "rect", "color": "#00a9a9", "opacity": 0.57}, "encoding": {"x": {"field": "x0", "type": "quantitative", "title": "Token learning effect"}, "x2": {"field": "x1"}, "y": {"field": "n", "type": "quantitative", "title": "Simulation counts"}, "y2": {"datum": 0}}},
        {"data": {"name": "eb"}, "transform": [{"filter": "datum.p=='C5'"}], "mark": {"type": "circle", "color": "#c40000", "size": 8, "opacity": 1}, "encoding": {"x": {"field": "m", "type": "quantitative", "title": "Token learning effect"}, "y": {"datum": 0, "type": "quantitative", "title": "Simulation counts"}}}
      ]},
      {"width": 59, "height": 57, "title": "Imitation model", "layer": [
        {"data": {"name": "eb"}, "transform": [{"filter": "datum.p=='C6'"}], "mark": {"type": "rule", "color": "#d42020", "strokeWidth": 0.8}, "encoding": {"x": {"field": "lo", "type": "quantitative", "title": "Token learning effect", "scale": {"domain": [0.24, 1.42], "nice": false, "zero": false}, "axis": {"values": [0.4, 0.8, 1.2], "format": ".1f"}}, "x2": {"field": "hi"}, "y": {"datum": 0, "type": "quantitative", "title": "Simulation counts", "scale": {"domain": [-8, 174], "nice": false, "zero": false}, "axis": {"values": [0, 50, 100, 150]}}}},
        {"data": {"name": "eb"}, "transform": [{"filter": "datum.p=='C6'"}, {"fold": ["lo", "hi"]}], "mark": {"type": "tick", "orient": "vertical", "color": "#d42020", "size": 3, "thickness": 0.8}, "encoding": {"x": {"field": "value", "type": "quantitative", "title": "Token learning effect"}, "y": {"datum": 0, "type": "quantitative", "title": "Simulation counts"}}},
        {"data": {"name": "hist"}, "transform": [{"filter": "datum.p=='C6'"}], "mark": {"type": "rect", "color": "#8a8a8a", "opacity": 0.57}, "encoding": {"x": {"field": "x0", "type": "quantitative", "title": "Token learning effect"}, "x2": {"field": "x1"}, "y": {"field": "n", "type": "quantitative", "title": "Simulation counts"}, "y2": {"datum": 0}}},
        {"data": {"name": "eb"}, "transform": [{"filter": "datum.p=='C6'"}], "mark": {"type": "circle", "color": "#c40000", "size": 8, "opacity": 1}, "encoding": {"x": {"field": "m", "type": "quantitative", "title": "Token learning effect"}, "y": {"datum": 0, "type": "quantitative", "title": "Simulation counts"}}}
      ]}
    ]}]},
    {"width": 1, "height": 2, "data": {"values": []}, "mark": "point", "encoding": {}},
    {"align": "none", "spacing": 0, "concat": [
      {"width": 21, "height": 32, "data": {"values": []}, "mark": "point", "encoding": {}, "view": {"fill": "black"}},
      {"columns": 1, "align": "none", "spacing": 0, "concat": [
        {"width": 28, "height": 11.5, "data": {"values": []}, "mark": "point", "encoding": {}, "view": {"fill": "black"}},
        {"width": 28, "height": 7, "layer": [
          {"data": {"name": "eb"}, "transform": [{"filter": "datum.p=='C1'"}], "mark": {"type": "rule", "color": "#d42020", "strokeWidth": 0.8}, "encoding": {"x": {"field": "lo", "type": "quantitative", "scale": {"domain": [0.667, 1.054], "nice": false, "zero": false}, "axis": null}, "x2": {"field": "hi"}, "y": {"datum": 0, "type": "quantitative", "scale": {"domain": [-1, 1], "nice": false}, "axis": null}}},
          {"data": {"name": "eb"}, "transform": [{"filter": "datum.p=='C1'"}, {"fold": ["lo", "hi"]}], "mark": {"type": "tick", "orient": "vertical", "color": "#d42020", "size": 3, "thickness": 0.8}, "encoding": {"x": {"field": "value", "type": "quantitative", "axis": null}, "y": {"datum": 0, "type": "quantitative", "axis": null}}},
          {"data": {"name": "eb"}, "transform": [{"filter": "datum.p=='C1'"}], "mark": {"type": "circle", "color": "#c40000", "size": 8, "opacity": 1}, "encoding": {"x": {"field": "m", "type": "quantitative", "axis": null}, "y": {"datum": 0, "type": "quantitative", "axis": null}}}
        ]},
        {"width": 28, "height": 13.5, "data": {"values": []}, "mark": "point", "encoding": {}, "view": {"fill": "black"}}
      ]},
      {"width": 74, "height": 32, "data": {"values": []}, "mark": "point", "encoding": {}, "view": {"fill": "black"}},
      {"width": 25, "height": 32, "data": {"name": "hist"}, "transform": [{"filter": "datum.p=='D5'"}], "mark": {"type": "rect", "color": "#00a9a9", "opacity": 0.57, "clip": true}, "encoding": {"x": {"field": "x0", "type": "quantitative", "scale": {"domain": [0.76, 1.28], "nice": false, "zero": false}, "axis": null}, "x2": {"field": "x1"}, "y": {"field": "n", "type": "quantitative", "scale": {"domain": [15, 200], "nice": false, "zero": false}, "axis": null}, "y2": {"datum": 15}}},
      {"width": 131, "height": 32, "data": {"values": []}, "mark": "point", "encoding": {}, "view": {"fill": "black"}}
    ]},
    {"width": 1, "height": 5, "data": {"values": []}, "mark": "point", "encoding": {}},
    {"align": "none", "spacing": 0, "concat": [
    {"width": 4, "height": 1, "data": {"values": []}, "mark": "point", "encoding": {}},
    {"columns": 3, "spacing": {"row": 5, "column": 7}, "concat": [
      {"width": 66, "height": 57, "title": "Arbitration model", "layer": [
        {"data": {"name": "eb"}, "transform": [{"filter": "datum.p=='D1'"}], "mark": {"type": "rule", "color": "#d42020", "strokeWidth": 0.8}, "encoding": {"x": {"field": "lo", "type": "quantitative", "title": "Action learning effect", "scale": {"domain": [0.08, 1.12], "nice": false, "zero": false}, "axis": {"values": [0.3, 0.6, 0.9], "format": ".1f"}}, "x2": {"field": "hi"}, "y": {"datum": 0, "type": "quantitative", "title": "Simulation counts", "scale": {"domain": [-10.5, 221], "nice": false, "zero": false}, "axis": {"values": [0, 50, 100, 150, 200]}}}},
        {"data": {"name": "eb"}, "transform": [{"filter": "datum.p=='D1'"}, {"fold": ["lo", "hi"]}], "mark": {"type": "tick", "orient": "vertical", "color": "#d42020", "size": 3, "thickness": 0.8}, "encoding": {"x": {"field": "value", "type": "quantitative", "title": "Action learning effect"}, "y": {"datum": 0, "type": "quantitative", "title": "Simulation counts"}}},
        {"data": {"name": "hist"}, "transform": [{"filter": "datum.p=='D1'"}], "mark": {"type": "rect", "color": "#00a9a9", "opacity": 0.57}, "encoding": {"x": {"field": "x0", "type": "quantitative", "title": "Action learning effect"}, "x2": {"field": "x1"}, "y": {"field": "n", "type": "quantitative", "title": "Simulation counts"}, "y2": {"datum": 0}}},
        {"data": {"name": "eb"}, "transform": [{"filter": "datum.p=='D1'"}], "mark": {"type": "circle", "color": "#c40000", "size": 8, "opacity": 1}, "encoding": {"x": {"field": "m", "type": "quantitative", "title": "Action learning effect"}, "y": {"datum": 0, "type": "quantitative", "title": "Simulation counts"}}}
      ]},
      {"width": 66, "height": 57, "title": "Emulation model", "layer": [
        {"data": {"name": "eb"}, "transform": [{"filter": "datum.p=='D2'"}], "mark": {"type": "rule", "color": "#d42020", "strokeWidth": 0.8}, "encoding": {"x": {"field": "lo", "type": "quantitative", "title": "Action learning effect", "scale": {"domain": [0.08, 1.12], "nice": false, "zero": false}, "axis": {"values": [0.3, 0.6, 0.9], "format": ".1f"}}, "x2": {"field": "hi"}, "y": {"datum": 0, "type": "quantitative", "title": "Simulation counts", "scale": {"domain": [-12, 250], "nice": false, "zero": false}, "axis": {"values": [0, 50, 100, 150, 200]}}}},
        {"data": {"name": "eb"}, "transform": [{"filter": "datum.p=='D2'"}, {"fold": ["lo", "hi"]}], "mark": {"type": "tick", "orient": "vertical", "color": "#d42020", "size": 3, "thickness": 0.8}, "encoding": {"x": {"field": "value", "type": "quantitative", "title": "Action learning effect"}, "y": {"datum": 0, "type": "quantitative", "title": "Simulation counts"}}},
        {"data": {"name": "hist"}, "transform": [{"filter": "datum.p=='D2'"}], "mark": {"type": "rect", "color": "#8a8a8a", "opacity": 0.57}, "encoding": {"x": {"field": "x0", "type": "quantitative", "title": "Action learning effect"}, "x2": {"field": "x1"}, "y": {"field": "n", "type": "quantitative", "title": "Simulation counts"}, "y2": {"datum": 0}}},
        {"data": {"name": "eb"}, "transform": [{"filter": "datum.p=='D2'"}], "mark": {"type": "circle", "color": "#c40000", "size": 8, "opacity": 1}, "encoding": {"x": {"field": "m", "type": "quantitative", "title": "Action learning effect"}, "y": {"datum": 0, "type": "quantitative", "title": "Simulation counts"}}}
      ]},
      {"width": 66, "height": 57, "title": "Imitation model", "layer": [
        {"data": {"name": "eb"}, "transform": [{"filter": "datum.p=='D3'"}], "mark": {"type": "rule", "color": "#d42020", "strokeWidth": 0.8}, "encoding": {"x": {"field": "lo", "type": "quantitative", "title": "Action learning effect", "scale": {"domain": [0.08, 1.12], "nice": false, "zero": false}, "axis": {"values": [0.3, 0.6, 0.9], "format": ".1f"}}, "x2": {"field": "hi"}, "y": {"datum": 0, "type": "quantitative", "title": "Simulation counts", "scale": {"domain": [-10.6, 223], "nice": false, "zero": false}, "axis": {"values": [0, 50, 100, 150, 200]}}}},
        {"data": {"name": "eb"}, "transform": [{"filter": "datum.p=='D3'"}, {"fold": ["lo", "hi"]}], "mark": {"type": "tick", "orient": "vertical", "color": "#d42020", "size": 3, "thickness": 0.8}, "encoding": {"x": {"field": "value", "type": "quantitative", "title": "Action learning effect"}, "y": {"datum": 0, "type": "quantitative", "title": "Simulation counts"}}},
        {"data": {"name": "hist"}, "transform": [{"filter": "datum.p=='D3'"}], "mark": {"type": "rect", "color": "#00a9a9", "opacity": 0.57}, "encoding": {"x": {"field": "x0", "type": "quantitative", "title": "Action learning effect"}, "x2": {"field": "x1"}, "y": {"field": "n", "type": "quantitative", "title": "Simulation counts"}, "y2": {"datum": 0}}},
        {"data": {"name": "eb"}, "transform": [{"filter": "datum.p=='D3'"}], "mark": {"type": "circle", "color": "#c40000", "size": 8, "opacity": 1}, "encoding": {"x": {"field": "m", "type": "quantitative", "title": "Action learning effect"}, "y": {"datum": 0, "type": "quantitative", "title": "Simulation counts"}}}
      ]},
      {"width": 66, "height": 57, "title": "Arbitration model", "layer": [
        {"data": {"name": "eb"}, "transform": [{"filter": "datum.p=='D4'"}], "mark": {"type": "rule", "color": "#d42020", "strokeWidth": 0.8}, "encoding": {"x": {"field": "lo", "type": "quantitative", "title": "Token learning effect", "scale": {"domain": [0.24, 1.3], "nice": false, "zero": false}, "axis": {"values": [0.25, 0.5, 0.75, 1.0, 1.25], "format": ".2f"}}, "x2": {"field": "hi"}, "y": {"datum": 0, "type": "quantitative", "title": "Simulation counts", "scale": {"domain": [-8.6, 181], "nice": false, "zero": false}, "axis": {"values": [0, 50, 100, 150]}}}},
        {"data": {"name": "eb"}, "transform": [{"filter": "datum.p=='D4'"}, {"fold": ["lo", "hi"]}], "mark": {"type": "tick", "orient": "vertical", "color": "#d42020", "size": 3, "thickness": 0.8}, "encoding": {"x": {"field": "value", "type": "quantitative", "title": "Token learning effect"}, "y": {"datum": 0, "type": "quantitative", "title": "Simulation counts"}}},
        {"data": {"name": "hist"}, "transform": [{"filter": "datum.p=='D4'"}], "mark": {"type": "rect", "color": "#00a9a9", "opacity": 0.57}, "encoding": {"x": {"field": "x0", "type": "quantitative", "title": "Token learning effect"}, "x2": {"field": "x1"}, "y": {"field": "n", "type": "quantitative", "title": "Simulation counts"}, "y2": {"datum": 0}}},
        {"data": {"name": "eb"}, "transform": [{"filter": "datum.p=='D4'"}], "mark": {"type": "circle", "color": "#c40000", "size": 8, "opacity": 1}, "encoding": {"x": {"field": "m", "type": "quantitative", "title": "Token learning effect"}, "y": {"datum": 0, "type": "quantitative", "title": "Simulation counts"}}}
      ]},
      {"width": 66, "height": 57, "title": "Emulation model", "layer": [
        {"data": {"name": "eb"}, "transform": [{"filter": "datum.p=='D5'"}], "mark": {"type": "rule", "color": "#d42020", "strokeWidth": 0.8}, "encoding": {"x": {"field": "lo", "type": "quantitative", "title": "Token learning effect", "scale": {"domain": [0.24, 1.3], "nice": false, "zero": false}, "axis": {"values": [0.25, 0.5, 0.75, 1.0, 1.25], "format": ".2f"}}, "x2": {"field": "hi"}, "y": {"datum": 0, "type": "quantitative", "title": "Simulation counts", "scale": {"domain": [-10, 205], "nice": false, "zero": false}, "axis": {"values": [0, 50, 100, 150, 200]}}}},
        {"data": {"name": "eb"}, "transform": [{"filter": "datum.p=='D5'"}, {"fold": ["lo", "hi"]}], "mark": {"type": "tick", "orient": "vertical", "color": "#d42020", "size": 3, "thickness": 0.8}, "encoding": {"x": {"field": "value", "type": "quantitative", "title": "Token learning effect"}, "y": {"datum": 0, "type": "quantitative", "title": "Simulation counts"}}},
        {"data": {"name": "hist"}, "transform": [{"filter": "datum.p=='D5'"}], "mark": {"type": "rect", "color": "#00a9a9", "opacity": 0.57}, "encoding": {"x": {"field": "x0", "type": "quantitative", "title": "Token learning effect"}, "x2": {"field": "x1"}, "y": {"field": "n", "type": "quantitative", "title": "Simulation counts"}, "y2": {"datum": 0}}},
        {"data": {"name": "eb"}, "transform": [{"filter": "datum.p=='D5'"}], "mark": {"type": "circle", "color": "#c40000", "size": 8, "opacity": 1}, "encoding": {"x": {"field": "m", "type": "quantitative", "title": "Token learning effect"}, "y": {"datum": 0, "type": "quantitative", "title": "Simulation counts"}}}
      ]},
      {"width": 66, "height": 57, "title": "Imitation model", "layer": [
        {"data": {"name": "eb"}, "transform": [{"filter": "datum.p=='D6'"}], "mark": {"type": "rule", "color": "#d42020", "strokeWidth": 0.8}, "encoding": {"x": {"field": "lo", "type": "quantitative", "title": "Token learning effect", "scale": {"domain": [0.24, 1.3], "nice": false, "zero": false}, "axis": {"values": [0.25, 0.5, 0.75, 1.0, 1.25], "format": ".2f"}}, "x2": {"field": "hi"}, "y": {"datum": 0, "type": "quantitative", "title": "Simulation counts", "scale": {"domain": [-8, 172], "nice": false, "zero": false}, "axis": {"values": [0, 50, 100, 150]}}}},
        {"data": {"name": "eb"}, "transform": [{"filter": "datum.p=='D6'"}, {"fold": ["lo", "hi"]}], "mark": {"type": "tick", "orient": "vertical", "color": "#d42020", "size": 3, "thickness": 0.8}, "encoding": {"x": {"field": "value", "type": "quantitative", "title": "Token learning effect"}, "y": {"datum": 0, "type": "quantitative", "title": "Simulation counts"}}},
        {"data": {"name": "hist"}, "transform": [{"filter": "datum.p=='D6'"}], "mark": {"type": "rect", "color": "#8a8a8a", "opacity": 0.57}, "encoding": {"x": {"field": "x0", "type": "quantitative", "title": "Token learning effect"}, "x2": {"field": "x1"}, "y": {"field": "n", "type": "quantitative", "title": "Simulation counts"}, "y2": {"datum": 0}}},
        {"data": {"name": "eb"}, "transform": [{"filter": "datum.p=='D6'"}], "mark": {"type": "circle", "color": "#c40000", "size": 8, "opacity": 1}, "encoding": {"x": {"field": "m", "type": "quantitative", "title": "Token learning effect"}, "y": {"datum": 0, "type": "quantitative", "title": "Simulation counts"}}}
      ]}
    ]}]},
    {"width": 1, "height": 1, "data": {"values": []}, "mark": "point", "encoding": {}}
  ]},
  {"width": 5, "height": 387, "data": {"values": []}, "mark": "point", "encoding": {}, "view": {"fill": "black"}}
]
}
